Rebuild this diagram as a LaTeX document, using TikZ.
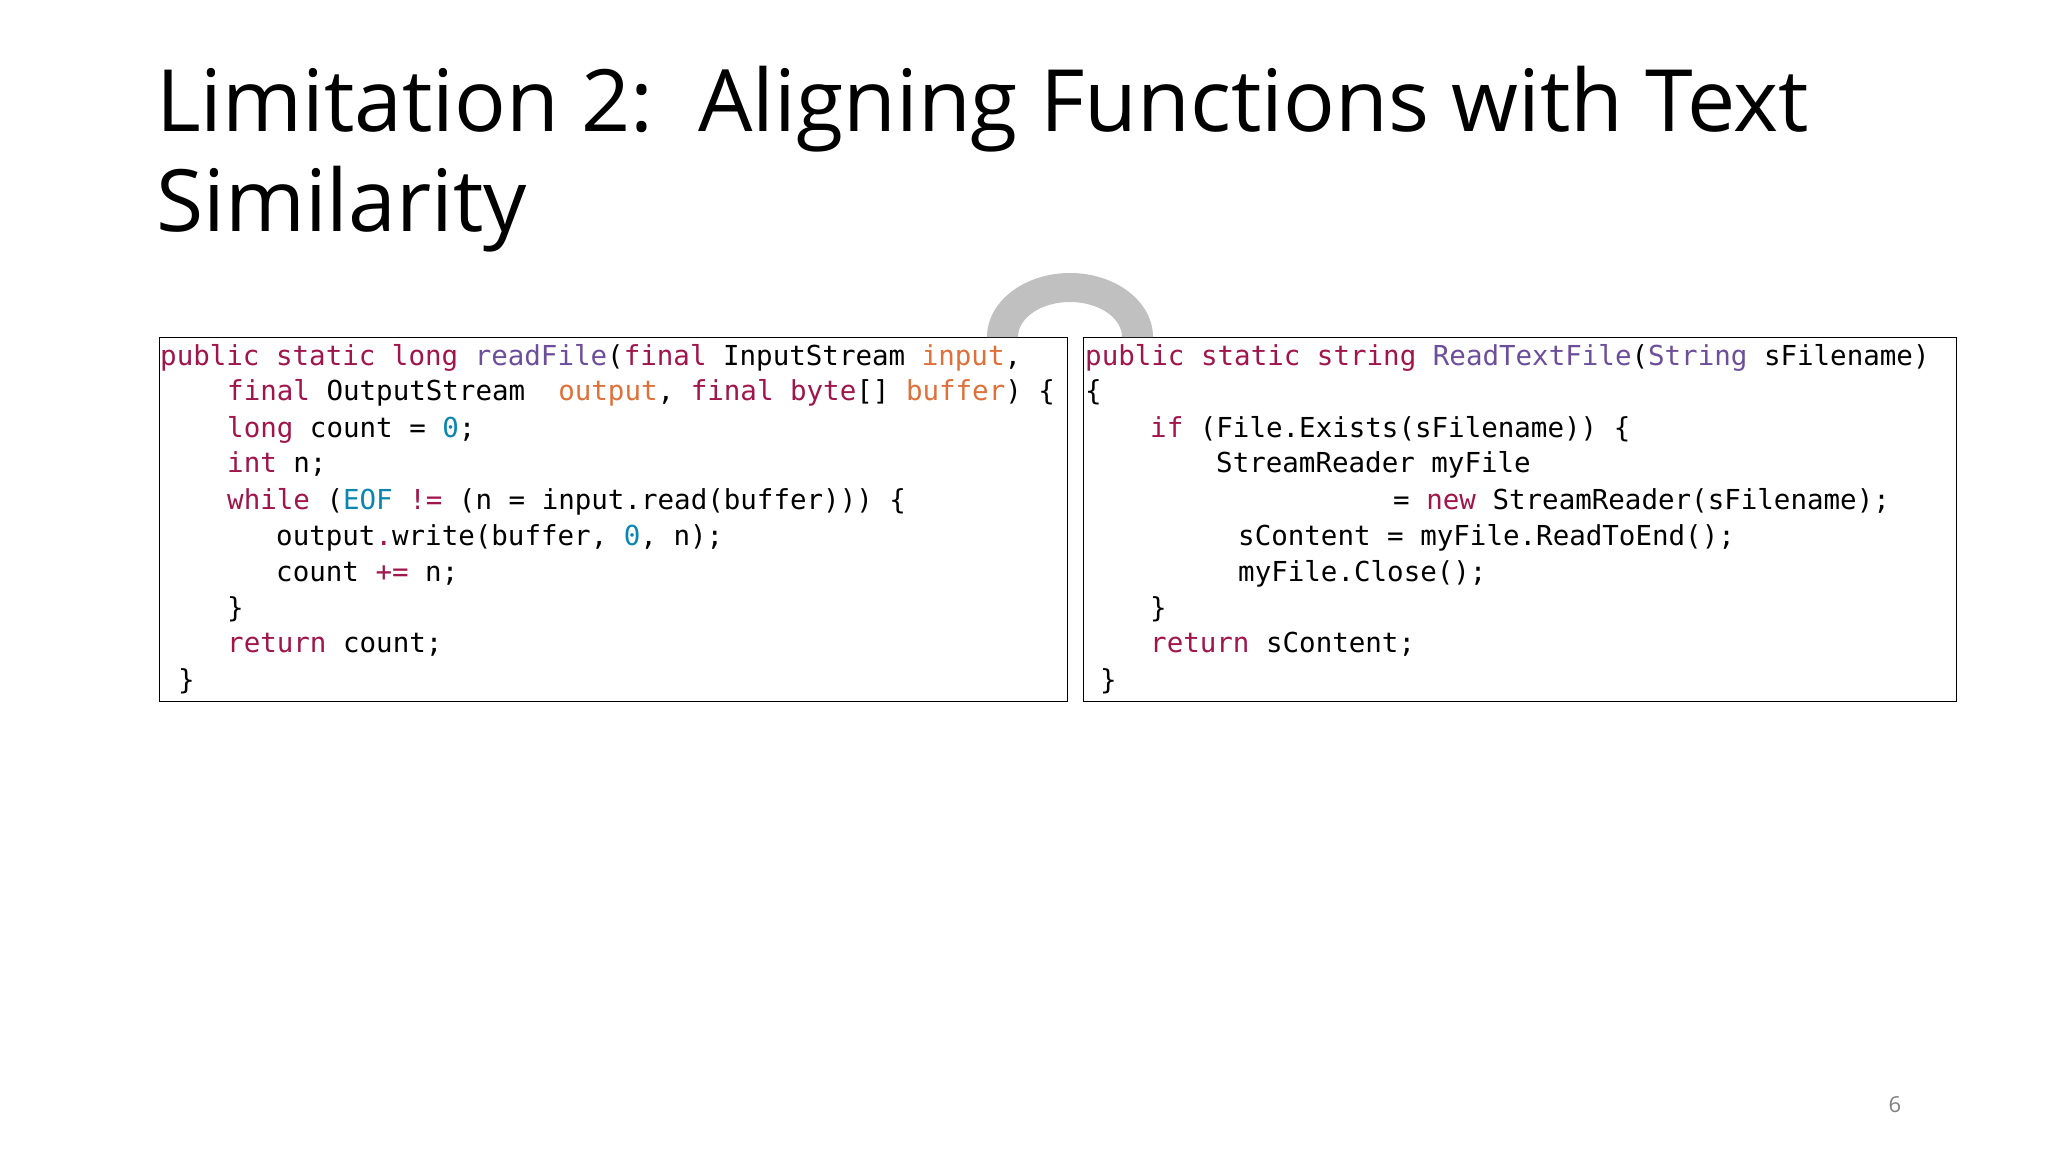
\documentclass[tikz,border=0pt]{standalone}
\usepackage{fontspec}
\setmainfont{Open Sans}
\setmonofont{DejaVu Sans Mono}
\definecolor{kw}{HTML}{A0154B}
\definecolor{fn}{HTML}{6C4E9B}
\definecolor{pa}{HTML}{E0703A}
\definecolor{nu}{HTML}{0A86B0}
\definecolor{arc}{HTML}{C0C0C0}
\newcommand{\K}[1]{\textcolor{kw}{#1}}
\newcommand{\F}[1]{\textcolor{fn}{#1}}
\newcommand{\Pa}[1]{\textcolor{pa}{#1}}
\newcommand{\N}[1]{\textcolor{nu}{#1}}
\begin{document}
\begin{tikzpicture}[x=1pt,y=-1pt,
  code/.style={anchor=base west,inner sep=0pt,font=\ttfamily\fontsize{27.5}{36}\selectfont},
  ttl/.style={anchor=base west,inner sep=0pt,font=\fontsize{86}{100}\selectfont}]
\useasboundingbox (0,0) rectangle (2048,1152);
\node[ttl] (t1) at (156,131) {Limitation 2:\ \ Aligning Functions with Text};
\node[ttl] (t2) at (156,231) {Similarity};
\node[draw,line width=1.3pt,minimum width=908pt,minimum height=364pt,anchor=north west,inner sep=0pt] (L) at (159,337) {};
\node[draw,line width=1.3pt,minimum width=873pt,minimum height=364pt,anchor=north west,inner sep=0pt] (R) at (1083,337) {};
\fill[arc] (987,337) arc[start angle=180,end angle=0,x radius=83,y radius=-64] -- (1122,337) arc[start angle=0,end angle=180,x radius=52,y radius=-35] -- cycle;
% left code
\node[code] (l1) at (160,365) {\K{public static long} \F{readFile}(\K{final} InputStream \Pa{input},};
\node[code] (l2) at (227,400) {\K{final} OutputStream\ \ \Pa{output}, \K{final} \K{byte}[] \Pa{buffer}) \{};
\node[code] (l3) at (227,437) {\K{long} count = \N{0};};
\node[code] (l4) at (227,472) {\K{int} n;};
\node[code] (l5) at (227,509) {\K{while} (\N{EOF} \K{!=} (n = input.read(buffer))) \{};
\node[code] (l6) at (276,545) {output\K{.}write(buffer, \N{0}, n);};
\node[code] (l7) at (276,581) {count \K{+=} n;};
\node[code] (l8) at (227,617) {\}};
\node[code] (l9) at (227,652) {\K{return} count;};
\node[code] (l10) at (178,689) {\}};
% right code
\node[code] (r1) at (1085,365) {\K{public static string} \F{ReadTextFile}(\F{String} sFilename)};
\node[code] (r2) at (1085,400) {\{};
\node[code] (r3) at (1150,437) {\K{if} (File.Exists(sFilename)) \{};
\node[code] (r4) at (1216,472) {StreamReader myFile};
\node[code] (r5) at (1393,509) {= \K{new} StreamReader(sFilename);};
\node[code] (r6) at (1238,545) {sContent = myFile.ReadToEnd();};
\node[code] (r7) at (1238,581) {myFile.Close();};
\node[code] (r8) at (1150,617) {\}};
\node[code] (r9) at (1150,652) {\K{return} sContent;};
\node[code] (r10) at (1100,689) {\}};
\node[anchor=base,inner sep=0pt,text=gray,font=\fontsize{22}{26}\selectfont] (pg) at (1895,1112) {6};
\end{tikzpicture}
\end{document}
